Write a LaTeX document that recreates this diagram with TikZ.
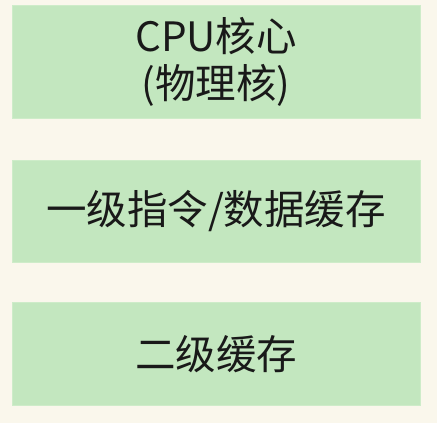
\documentclass[tikz,border=0pt]{standalone}
\usepackage{fontspec}
\newfontfamily\cjk{Noto Sans CJK SC}
\definecolor{bgc}{RGB}{250,247,236}
\definecolor{boxg}{RGB}{195,231,191}
\definecolor{boxe}{RGB}{206,236,201}
\begin{document}
\begin{tikzpicture}[x=1pt,y=1pt,
  layer/.style={fill=boxg,draw=boxe,line width=1pt,minimum width=408pt,inner sep=0pt,
    align=center,font=\cjk\fontsize{40.5}{47}\selectfont,text=black!90}]
\fill[bgc] (0,0) rectangle (437,-423);
\useasboundingbox (0,0) rectangle (437,-423);
\node[layer,minimum height=113pt] (core) at (216,-62) {CPU核心\\(物理核)};
\node[layer,minimum height=102pt] (l1) at (216,-211) {一级指令/数据缓存};
\node[layer,minimum height=103pt] (l2) at (216,-354) {二级缓存};
\end{tikzpicture}
\end{document}
